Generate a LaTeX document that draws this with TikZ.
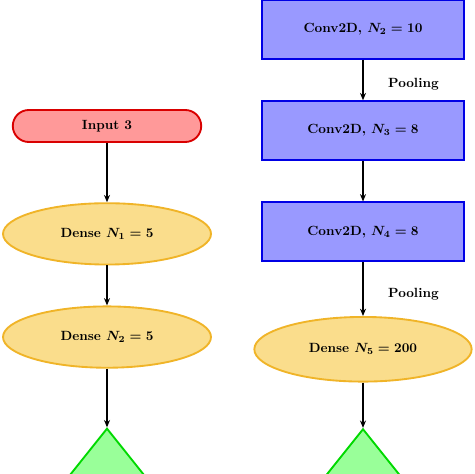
\documentclass[tikz,border=0pt]{standalone}
\usetikzlibrary{shapes.geometric, shapes.misc, arrows.meta, positioning}

\definecolor{densefill}{RGB}{250,221,140}
\definecolor{densedraw}{RGB}{240,180,40}

\begin{document}
\begin{tikzpicture}[
		% estilos de los bloques
		inputnode/.style = {draw=red!85!black, fill=red!40, rounded rectangle, minimum height=24pt, minimum width=148pt, line width=1.4pt, font=\bfseries\boldmath},
		convnode/.style = {draw=blue!90!black, fill=blue!40, rectangle, minimum height=44pt, minimum width=152pt, line width=1.4pt, font=\bfseries\boldmath},
		densenode/.style = {draw=densedraw, fill=densefill, ellipse, minimum height=46pt, minimum width=156pt, line width=1.4pt, font=\bfseries\boldmath},
		outnode/.style = {draw=green!85!black, fill=green!40, diamond, inner sep=0pt, minimum width=116pt, minimum height=145pt, line width=1.4pt},
		lbl/.style = {font=\bfseries},
		>={Stealth[length=5.5pt, width=4.5pt]},
		line width=1.1pt
		]
		
		\useasboundingbox (0,0) rectangle (355.5pt,-355.5pt);
		\clip (0,0) rectangle (355.5pt,-355.5pt);
		
		% --- RAMA IZQUIERDA ---
		\node [inputnode] (in3) at (80.25pt,-94.5pt) {Input 3};
		\node [densenode, below=44.5pt of in3] (dense1) {Dense $N_1 = 5$};
		\node [densenode, below=30pt of dense1] (dense2) {Dense $N_2 = 5$};
		\node [outnode, below=44pt of dense2] (out1) {};
		
		% --- RAMA DERECHA ---
		\node [convnode] (conv2) at (272.25pt,-22pt) {Conv2D, $N_2 = 10$};
		\node [convnode, below=30.5pt of conv2] (conv3) {Conv2D, $N_3 = 8$};
		\node [convnode, below=30.5pt of conv3] (conv4) {Conv2D, $N_4 = 8$};
		\node [densenode, below=40.5pt of conv4, minimum width=163pt, minimum height=48.5pt] (dense5) {Dense $N_5 = 200$};
		\node [outnode, below=34pt of dense5] (out2) {};
		
		% --- CONEXIONES ---
		\draw [->] (in3.south) -- (dense1.north);
		\draw [->] (dense1) -- (dense2);
		\draw [->] (dense2) -- (out1);
		
		\draw [->] (conv2) -- node[lbl, right=15pt, pos=0.6] {Pooling} (conv3);
		\draw [->] (conv3) -- (conv4);
		\draw [->] (conv4) -- node[lbl, right=15pt, pos=0.6] {Pooling} (dense5);
		\draw [->] (dense5) -- (out2);
		
	\end{tikzpicture}
\end{document}
